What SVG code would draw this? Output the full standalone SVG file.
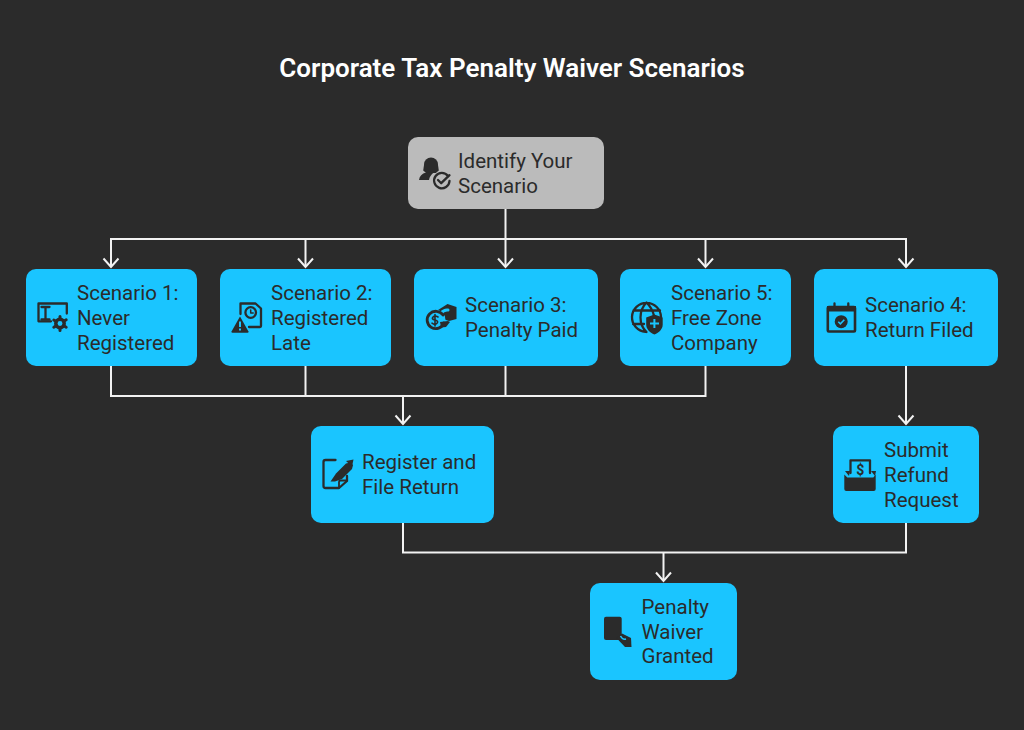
<svg xmlns="http://www.w3.org/2000/svg" width="1024" height="730" viewBox="0 0 1024 730">
<style>
text{font-family:Roboto,"Liberation Sans",sans-serif;font-size:20.5px;fill:#2b2b2b}
.title{font-size:26px;font-weight:600;fill:#fff}
.box{fill:#1ac5ff}
.grey{fill:#bbbbbb}
.conn{fill:none;stroke:#f2f2f2;stroke-width:2}
.ic{fill:none;stroke:#2b2b2b;stroke-width:2.300;stroke-linecap:round;stroke-linejoin:round}
.icf{fill:#2b2b2b}
.icb{fill:#1ac5ff}
.cut{fill:none;stroke:#1ac5ff}
</style>
<defs>
<marker id="arrow" markerUnits="userSpaceOnUse" markerWidth="18" markerHeight="18" refX="16" refY="9" orient="auto">
<path d="M7.500 1.500L16 9L7.500 16.500" fill="none" stroke="#f2f2f2" stroke-width="2"/>
</marker>
</defs>
<rect width="1024" height="730" fill="#2b2b2b"/>
<text class="title" x="512" y="77" text-anchor="middle">Corporate Tax Penalty Waiver Scenarios</text>
<g id="connectors">
<path class="conn" d="M505.500 209V239"/>
<path class="conn" d="M505.500 239H111V267" marker-end="url(#arrow)"/>
<path class="conn" d="M305.500 239V267" marker-end="url(#arrow)"/>
<path class="conn" d="M505.500 239V267" marker-end="url(#arrow)"/>
<path class="conn" d="M505.500 239H705.500V267" marker-end="url(#arrow)"/>
<path class="conn" d="M705.500 239H906V267" marker-end="url(#arrow)"/>
<path class="conn" d="M111 366V396H705.500V366"/>
<path class="conn" d="M305.500 366V396"/>
<path class="conn" d="M505.500 366V396"/>
<path class="conn" d="M403 396V424" marker-end="url(#arrow)"/>
<path class="conn" d="M906 366V424" marker-end="url(#arrow)"/>
<path class="conn" d="M403 523V552.500H906V523"/>
<path class="conn" d="M663.500 552.500V581" marker-end="url(#arrow)"/>
</g>
<g id="identify">
<rect class="grey" x="408" y="137" width="196" height="72" rx="10"/>
<circle class="icf" cx="431" cy="164.500" r="7"/>
<path class="icf" d="M424 165h14l.8 5.500-3 2.500h-9.600l-3-2.500z"/>
<path class="icf" d="M419 180c.5-4 3-6.500 7-7.500h8c-3 2-4.500 4.500-5 7.500z"/>
<path class="ic" d="M448 176a7.700 7.700 0 1 0 1.500 5"/><path class="ic" d="M438 180l3.200 3.200 8.300-8"/>
<text x="458" y="168">Identify Your</text><text x="458" y="193">Scenario</text>
</g>
<g id="scenario1">
<rect class="box" x="26" y="269" width="171" height="97" rx="10"/>
<path class="ic" d="M51 321.300H38.500V303.500H66.800V313.500"/>
<path class="ic" d="M41.500 307h8M45.500 307V319.500M41.500 319.500h8"/>
<circle cx="60" cy="323.500" r="4.200" class="ic" style="stroke-width:3.500"/>
<path class="ic" d="M60 316.500v2M60 328.500v2M53.800 320l2 1.200M64.200 326l2 1.200M53.800 327.200l2-1.200M64.200 321l2-1.200" style="stroke-width:3"/>
<text x="77" y="300">Scenario 1:</text><text x="77" y="325">Never</text><text x="77" y="349.500">Registered</text>
</g>
<g id="scenario2">
<rect class="box" x="220" y="269" width="171" height="97" rx="10"/>
<path class="ic" d="M240.500 314V303.500h15l5.500 5v17.500q0 1-1 1H249"/>
<circle class="ic" cx="250.700" cy="312.500" r="5.300"/><path class="ic" d="M250.700 310v3h2.500" style="stroke-width:1.500"/>
<path class="icf" d="M240 316.500l8.500 15q.2 1.300-1 1.300h-15q-1.200 0-1-1.300z"/>
<path class="cut" d="M240 321.500v5.500M240 328.500v2" stroke-width="2"/>
<text x="271" y="300">Scenario 2:</text><text x="271" y="325">Registered</text><text x="271" y="349.500">Late</text>
</g>
<g id="scenario3">
<rect class="box" x="414" y="269" width="184" height="97" rx="10"/>
<path class="icf" d="M436.500 311l11-7 9 3v12l-7.500 2-6-2-6.500-3z"/>
<path class="cut" d="M441 313q3-3.500 7-3" stroke-width="3" stroke-linecap="round"/>
<circle class="icb" cx="435" cy="320" r="10.500"/>
<path class="ic" d="M443 315a8.700 8.700 0 1 0 1 8" style="stroke-width:2.800"/>
<path class="ic" d="M438 317q-3-2-5 0t2 3q4 1 2 3.200t-5 0M435 314.500v11.500" style="stroke-width:1.600"/>
<path class="icf" d="M440 322l8-1 2 1-4 5-5 .5z"/>
<text x="465" y="312">Scenario 3:</text><text x="465" y="337">Penalty Paid</text>
</g>
<g id="scenario5">
<rect class="box" x="620" y="269" width="171" height="97" rx="10"/>
<path class="ic" d="M645.500 331.800a14.500 14.500 0 1 1 15.500-14.800M633.500 310.500H660M633 324h11M646.500 302.500c-8 8-8 22 0 29.500M646.500 302.500c4 4 6.500 8.500 7.500 13.500"/>
<path class="icf" d="M646.200 317.500l8.200-3 8.300 3v7c0 4.500-3.500 8-8.300 10-4.700-2-8.200-5.500-8.200-10z"/>
<path class="cut" d="M654.400 319v9M650 323.500h9" stroke-width="2"/>
<text x="671" y="300">Scenario 5:</text><text x="671" y="325">Free Zone</text><text x="671" y="349.500">Company</text>
</g>
<g id="scenario4">
<rect class="box" x="814" y="269" width="184" height="97" rx="10"/>
<rect class="ic" x="827.800" y="307" width="27.200" height="24.500" rx="1" style="stroke-width:2.600"/>
<path class="icf" d="M827 306h29v5.500h-29z"/>
<path class="ic" d="M834.500 303.500v5M848.300 303.500v5"/>
<circle class="icf" cx="841.200" cy="321.700" r="6.500"/>
<path class="cut" d="M838.300 321.700l2.100 2.100 3.900-4" stroke-width="1.600"/>
<text x="865" y="312">Scenario 4:</text><text x="865" y="337">Return Filed</text>
</g>
<g id="register">
<rect class="box" x="311" y="426" width="183" height="97" rx="10"/>
<path class="ic" d="M335.500 460H325.500q-2 0-2 2v24q0 2 2 2h13.500l8-7v-5"/>
<path class="ic" d="M339 488v-6q0-1.500 1.500-1.500h6" style="stroke-width:1.800"/>
<path class="icf" d="M330.500 481.500l5.500-8 10-10 4.500-1 2.500 2.500-1 4-10 10-7 2.500z"/><path class="icf" d="M346 461l7.500-1.500-1.500 7z"/>
<text x="362" y="469">Register and</text><text x="362" y="494">File Return</text>
</g>
<g id="submit">
<rect class="box" x="833" y="426" width="146" height="97" rx="10"/>
<path class="ic" d="M850.500 473V460.300h19.500v12.700"/>
<text x="860.300" y="474.500" text-anchor="middle" style="font-size:14px;font-weight:700">$</text>
<path class="icf" d="M845 471h5l-1 5zM871 471h5l-1 5z"/>
<path class="icf" d="M844.300 474.500l3 3h26l2.400-3v14.500q0 2-2 2h-27.400q-2 0-2-2z"/>
<text x="884" y="457">Submit</text><text x="884" y="482">Refund</text><text x="884" y="506.500">Request</text>
</g>
<g id="granted">
<rect class="box" x="590" y="583" width="147" height="97" rx="10"/>
<rect class="icf" x="604" y="616.700" width="17.700" height="23.300" rx="2"/>
<path class="icf" d="M616.500 638l5.500-4.500 9 4.500 .5 9h-6.500z"/>
<path class="cut" d="M620.500 636q2 4 5.500 3" stroke-width="1.500"/>
<text x="641.500" y="614">Penalty</text><text x="641.500" y="639">Waiver</text><text x="641.500" y="663">Granted</text>
</g>
</svg>
